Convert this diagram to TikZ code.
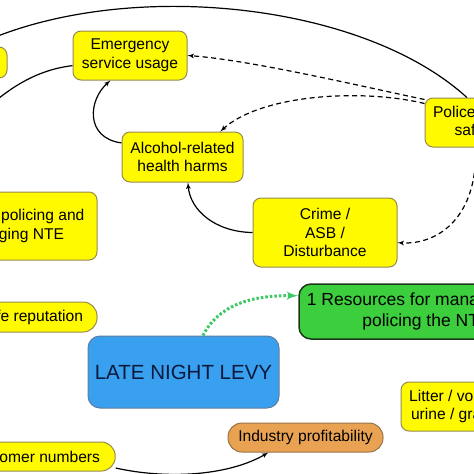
\documentclass[tikz,border=0pt]{standalone}
\usepackage{fontspec}
\setmainfont{Liberation Sans}
\usepackage{xcolor}
\usepackage{tikz}
\usetikzlibrary{arrows}

\definecolor{boxyellow}{RGB}{255,250,0}
\definecolor{boxedge}{RGB}{150,138,80}
\definecolor{levyblue}{RGB}{56,160,238}
\definecolor{levyedge}{RGB}{95,125,160}
\definecolor{levytext}{RGB}{10,25,60}
\definecolor{goalgreen}{RGB}{60,206,60}
\definecolor{goaledge}{RGB}{25,55,25}
\definecolor{dotgreen}{RGB}{60,200,100}
\definecolor{profitorange}{RGB}{232,162,82}
\definecolor{profitedge}{RGB}{150,115,75}

\begin{document}
\begin{tikzpicture}[x=1pt, y=-1pt,
		yellowbox/.style={draw=boxedge, fill=boxyellow, line width=1pt, rounded corners=8pt,
			align=center, inner sep=0pt, font=\fontsize{15.6}{18.7}\selectfont},
		yellowpill/.style={yellowbox, rounded corners=14pt},
		orangepill/.style={yellowpill, draw=profitedge, fill=profitorange},
		levybox/.style={draw=levyedge, fill=levyblue, line width=1pt, rounded corners=12pt,
			text=levytext, inner sep=0pt, font=\fontsize{20.5}{24}\selectfont},
		goalbox/.style={draw=goaledge, fill=goalgreen, line width=1.5pt, rounded corners=12pt,
			align=center, inner sep=0pt, font=\fontsize{17.5}{21}\selectfont},
		solidarrow/.style={-latex', line width=1.2pt},
		dasharrow/.style={solidarrow, dash pattern=on 5pt off 3.5pt},
		dotarrow/.style={-latex', dotgreen, line width=3pt, dash pattern=on 2.5pt off 2pt}]
		\useasboundingbox (0,0) rectangle (474,474);
		\clip (0,0) rectangle (474,474);
		% boxes
		\node [yellowbox, minimum width=67pt, minimum height=31pt] (topleft) at (-26.5,62.5) {};
		\node [yellowbox, minimum width=114pt, minimum height=49pt] (emergency) at (130,55.5) {Emergency\\service usage};
		\node [yellowbox, minimum width=121pt, minimum height=50pt] (alcohol) at (182.5,157) {Alcohol-related\\health harms};
		\node [yellowbox, minimum width=101pt, minimum height=49pt] (police) at (475.5,122.5) {Police time /\\safety};
		\node [yellowbox, minimum width=170pt, minimum height=68pt] (costs) at (12,226) {Costs of policing and\\managing NTE};
		\node [yellowbox, minimum width=144pt, minimum height=69pt] (crime) at (325,232.5) {Crime /\\ASB /\\Disturbance};
		\node [yellowpill, minimum width=158pt, minimum height=30pt] (reputation) at (18,317) {Nightlife reputation};
		\node [goalbox, minimum width=255pt, minimum height=55pt] (resources) at (426.5,311.5) {1 Resources for managing and\\policing the NTE};
		\node [levybox, minimum width=191pt, minimum height=72pt] (levy) at (183.5,372) {LATE NIGHT LEVY};
		\node [yellowbox, minimum width=110pt, minimum height=49pt] (litter) at (456,406.5) {Litter / vomit /\\urine / graffiti};
		\node [orangepill, minimum width=155pt, minimum height=29pt] (industry) at (305.5,437.5) {Industry profitability};
		\node [yellowpill, minimum width=163pt, minimum height=29pt] (customers) at (33.7,456.5) {Customer numbers};
		\coordinate (offleft) at (-25,120);
		% links
		\path[draw, solidarrow] (police.109) .. controls (360,0) and (120,-22) .. (topleft.north);
		\path[draw, solidarrow] (emergency.190) .. controls (35,70) and (5,90) .. (offleft);
		\path[draw, solidarrow] (alcohol.167) .. controls (85,138) and (88,100) .. (emergency.232);
		\path[draw, solidarrow] (crime.west) .. controls (215,232) and (190,210) .. (alcohol.282);
		\path[draw, dasharrow] ([yshift=-2pt]police.north west) .. controls (360,86) and (250,60) .. (emergency.east);
		\path[draw, dasharrow] ([yshift=-6pt]police.north west) .. controls (360,88) and (260,95) .. (alcohol.34);
		\path[draw, dasharrow] (police.south) .. controls (478,215) and (440,245) .. (crime.352);
		\path[draw, dotarrow] (levy.62) .. controls (215,312) and (240,295) .. (resources.173);
		\path[draw, solidarrow] (customers.352) .. controls (170,480) and (230,475) .. (industry.202);
	\end{tikzpicture}
\end{document}
